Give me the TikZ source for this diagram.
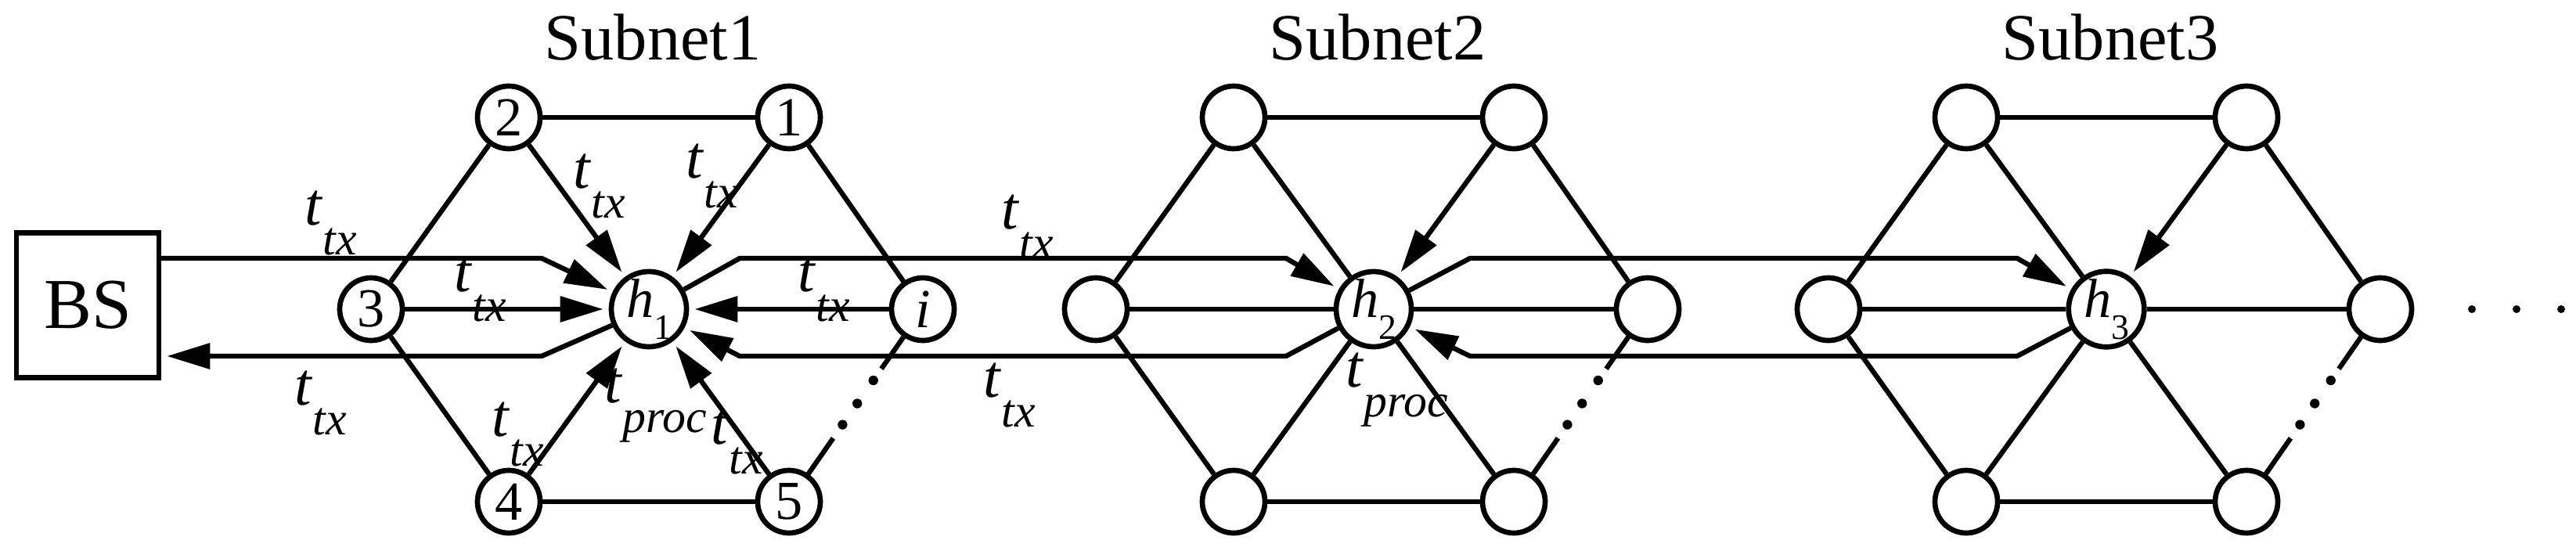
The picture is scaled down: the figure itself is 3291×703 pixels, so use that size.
\documentclass[tikz,border=0pt]{standalone}
\usepackage{fontspec}
\setmainfont{Liberation Serif}
\usetikzlibrary{arrows.meta,calc}
\newcommand\tsb[1]{\textit{t}\raisebox{-0.5em}{\fontsize{17}{17}\selectfont\textit{#1}}}
\newcommand\hsb[1]{\textit{h}\raisebox{-0.4em}{\fontsize{13}{13}\selectfont #1}}
\begin{document}
\begin{tikzpicture}[x=0.01cm,y=-0.01cm,
  nd/.style={circle,draw,line width=1.9pt,minimum size=0.8cm,inner sep=0pt,fill=white,font=\fontsize{20}{20}\selectfont},
  ln/.style={line width=1.8pt},
  ar/.style={line width=1.8pt,-{Triangle[length=5.5mm,width=3.2mm]},shorten >=2pt},
  lb/.style={font=\fontsize{22}{22}\selectfont,inner sep=0pt},
  sub/.style={font=\fontsize{24}{24}\selectfont},
  dt/.style={circle,fill,inner sep=0pt,minimum size=3.5pt}]
\useasboundingbox (0,0) rectangle (3291,703);
\node[draw,line width=1.8pt,minimum width=1.82cm,minimum height=1.85cm,font=\fontsize{26}{26}\selectfont] (bs) at (112,390) {BS};
% subnets
\foreach \k/\cx in {1/829,2/1755,3/2691}{
  \coordinate (c\k) at (\cx,395);
  \node[sub] (lab\k) at (\cx+5,48) {Subnet\k};
}
% node positions
\foreach \k/\cx in {1/829,2/1755,3/2691}{
  \path (\cx+179,150) coordinate (p\k a) (\cx-179,150) coordinate (p\k b)
        (\cx-355,395) coordinate (p\k c) (\cx-179,641) coordinate (p\k d)
        (\cx+179,641) coordinate (p\k e) (\cx+350,395) coordinate (p\k f);
}
\node[nd] (n1a) at (p1a) {1};
\node[nd] (n1b) at (p1b) {2};
\node[nd] (n1c) at (p1c) {3};
\node[nd] (n1d) at (p1d) {4};
\node[nd] (n1e) at (p1e) {5};
\node[nd] (n1f) at (p1f) {\textit{i}};
\foreach \k in {2,3}{
  \foreach \s in {a,b,c,d,e,f}{\node[nd] (n\k\s) at (p\k\s) {};}
}
\node[nd] (h1) at (c1) {\hsb{1}};
\node[nd] (h2) at (c2) {\hsb{2}};
\node[nd] (h3) at (c3) {\hsb{3}};
% outer hexagon edges
\foreach \k in {1,2,3}{
  \draw[ln] (n\k a) -- (n\k b);
  \draw[ln] (n\k b) -- (n\k c);
  \draw[ln] (n\k c) -- (n\k d);
  \draw[ln] (n\k d) -- (n\k e);
  \draw[ln] (n\k a) -- (n\k f);
  \draw[ln] (n\k f) -- ($(n\k f)!0.31!(n\k e)$);
  \draw[ln] ($(n\k f)!0.67!(n\k e)$) -- (n\k e);
  \node[dt] (d\k x) at ($(n\k f)!0.37!(n\k e)$) {};
  \node[dt] (d\k y) at ($(n\k f)!0.49!(n\k e)$) {};
  \node[dt] (d\k z) at ($(n\k f)!0.60!(n\k e)$) {};
}
% spokes subnet1
\foreach \s in {a,b,c,d,e,f}{\draw[ar] (n1\s) -- (h1);}
% spokes subnet2/3
\foreach \k in {2,3}{
  \draw[ar] (n\k a) -- (h\k);
  \foreach \s in {b,c,d,e,f}{\draw[ln] (n\k\s) -- (h\k);}
}
% long paths
\coordinate (u1) at (692,330); \coordinate (l1) at (692,455);
\draw[ar] (bs.east|-u1) -- (u1) -- (h1);
\draw[ar] (h1) -- (l1) -- (bs.east|-l1);
\draw[ar] (h1) -- (945,330) -- (1643,330) -- (h2);
\draw[ar] (h2) -- (1643,455) -- (945,455) -- (h1);
\draw[ar] (h2) -- (1878,330) -- (2577,330) -- (h3);
\draw[ar] (h3) -- (2577,455) -- (1878,455) -- (h2);
% labels
\node[lb] (t1) at (423,285) {\tsb{tx}};
\node[lb] (t2) at (410,515) {\tsb{tx}};
\node[lb] (t3) at (614,370) {\tsb{tx}};
\node[lb] (t4) at (766,238) {\tsb{tx}};
\node[lb] (t5) at (910,225) {\tsb{tx}};
\node[lb] (t6) at (1053,370) {\tsb{tx}};
\node[lb] (t7) at (662,555) {\tsb{tx}};
\node[lb] (t8) at (942,565) {\tsb{tx}};
\node[lb] (t9) at (838,518) {\tsb{proc}};
\node[lb] (t10) at (1313,290) {\tsb{tx}};
\node[lb] (t11) at (1290,505) {\tsb{tx}};
\node[lb] (t12) at (1785,498) {\tsb{proc}};
% trailing dots
\node[dt,minimum size=0.1cm] (e1) at (3158,395) {};
\node[dt,minimum size=0.1cm] (e2) at (3215,395) {};
\node[dt,minimum size=0.1cm] (e3) at (3272,395) {};
\end{tikzpicture}
\end{document}
